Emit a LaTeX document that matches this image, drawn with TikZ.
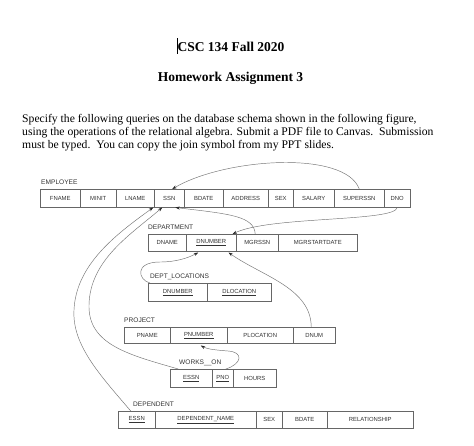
\documentclass[tikz,border=0pt]{standalone}
\usepackage{fontspec}
\setmainfont{Liberation Serif}
\newfontfamily\diagfont{Liberation Sans}
\usetikzlibrary{arrows.meta,calc}
\tikzset{
 cell/.style={draw=black!60, line width=0.5pt, anchor=north west, inner sep=0pt, text=black!80, font=\diagfont\fontsize{5.9}{6}\selectfont},
 tlabel/.style={anchor=base west, inner sep=0pt, text=black!80, font=\diagfont\fontsize{6.6}{7}\selectfont},
 link/.style={draw=black!55, line width=0.45pt, -{Stealth[length=4.5pt,width=3pt,color=black!85]}},
 titletext/.style={font=\bfseries\fontsize{13.5}{16}\selectfont, anchor=base, inner sep=0pt},
 bodytext/.style={font=\fontsize{11.65}{13}\selectfont, anchor=base west, inner sep=0pt},
}
\begin{document}
\begin{tikzpicture}[x=1pt,y=-1pt]
\useasboundingbox (0,0) rectangle (474,445);
\fill[white] (0,0) rectangle (474,445);
% titles
\node[titletext] (t1) at (231,51) {CSC 134 Fall 2020};
\node[titletext] (t2) at (230.5,81.5) {Homework Assignment 3};
\draw[line width=0.8pt] (177.5,38) -- (177.5,54);
\node[bodytext] (p1) at (22,122) {Specify the following queries on the database schema shown in the following figure,};
\node[bodytext] (p2) at (22,135) {using the operations of the relational algebra. Submit a PDF file to Canvas.~~Submission};
\node[bodytext] (p3) at (22,148) {must be typed.~~You can copy the join symbol from my PPT slides.};
% EMPLOYEE
\node[tlabel] (lemp) at (41,184.5) {EMPLOYEE};
\begin{scope}[every node/.append style={minimum height=18}]
\node[cell, minimum width=40] (fname) at (40,189) {FNAME};
\node[cell, minimum width=36] (minit) at (80,189) {MINIT};
\node[cell, minimum width=38] (lname) at (116,189) {LNAME};
\node[cell, minimum width=30] (ssn) at (154,189) {SSN};
\node[cell, minimum width=39] (bdate) at (184,189) {BDATE};
\node[cell, minimum width=45] (address) at (223,189) {ADDRESS};
\node[cell, minimum width=25] (sex) at (268,189) {SEX};
\node[cell, minimum width=41] (salary) at (293,189) {SALARY};
\node[cell, minimum width=50] (superssn) at (334,189) {SUPERSSN};
\node[cell, minimum width=26] (dno) at (384,189) {DNO};
\end{scope}
% DEPARTMENT
\node[tlabel] (ldept) at (148,229.5) {DEPARTMENT};
\begin{scope}[every node/.append style={minimum height=17}]
\node[cell, minimum width=38] (dname) at (148,234) {DNAME};
\node[cell, minimum width=50] (dnumber) at (186,234) {\underline{DNUMBER}};
\node[cell, minimum width=42] (mgrssn) at (236,234) {MGRSSN};
\node[cell, minimum width=79] (mgrstart) at (278,234) {MGRSTARTDATE};
\end{scope}
% DEPT_LOCATIONS
\node[tlabel] (ldl) at (150,278.5) {DEPT\_LOCATIONS};
\begin{scope}[every node/.append style={minimum height=18}]
\node[cell, minimum width=59] (dlnumber) at (148,283) {\underline{DNUMBER}};
\node[cell, minimum width=64] (dlocation) at (207,283) {\underline{DLOCATION}};
\end{scope}
% PROJECT
\node[tlabel] (lproj) at (124,322.5) {PROJECT};
\begin{scope}[every node/.append style={minimum height=16}]
\node[cell, minimum width=46] (pname) at (124,327) {PNAME};
\node[cell, minimum width=57] (pnumber) at (170,327) {\underline{PNUMBER}};
\node[cell, minimum width=66] (plocation) at (227,327) {PLOCATION};
\node[cell, minimum width=42] (dnum) at (293,327) {DNUM};
\end{scope}
% WORKS_ON
\node[tlabel] (lwo) at (179,364.5) {WORKS\_\_ON};
\begin{scope}[every node/.append style={minimum height=18}]
\node[cell, minimum width=42] (woessn) at (170,369) {\underline{ESSN}};
\node[cell, minimum width=21] (pno) at (212,369) {\underline{PNO}};
\node[cell, minimum width=43] (hours) at (233,369) {HOURS};
\end{scope}
% DEPENDENT
\node[tlabel] (ldep) at (133,406.5) {DEPENDENT};
\begin{scope}[every node/.append style={minimum height=17}]
\node[cell, minimum width=37] (dessn) at (118,411) {\underline{ESSN}};
\node[cell, minimum width=101] (depname) at (155,411) {\underline{DEPENDENT\_NAME}};
\node[cell, minimum width=26] (dsex) at (256,411) {SEX};
\node[cell, minimum width=45] (dbdate) at (282,411) {BDATE};
\node[cell, minimum width=86] (relationship) at (327,411) {RELATIONSHIP};
\end{scope}
% connectors
\draw[link] (superssn.north) .. controls (345,150) and (225,158) .. ($(ssn.north)+(3,0)$);
\draw[link] (dno.south) .. controls (395,222) and (270,216) .. ($(dnumber.north east)+(-4,0)$);
\draw[link] ($(mgrssn.north)+(-2,0)$) .. controls (254,216) and (230,214) .. ($(ssn.south)+(6,0)$);
\draw[link] ($(dlnumber.north west)+(2,0)$) .. controls (138,280) and (134,262) .. (160,262) .. controls (176,262) and (188,258) .. ($(dnumber.south)+(-13,1)$);
\draw[link] ($(dnum.north)+(-3,0)$) .. controls (311,288) and (262,276) .. ($(dnumber.south east)+(-8,1)$);
\draw[link] ($(woessn.north)+(-13,0)$) .. controls (130,355) and (88,345) .. (89,305) .. controls (90,260) and (130,235) .. ($(ssn.south)+(-7,0)$);
\draw[link] ($(dessn.north)+(-6,0)$) .. controls (100,375) and (72,345) .. (74,310) .. controls (76,265) and (115,235) .. ($(ssn.south)+(-16,0)$);
\draw[link] ($(pno.north)+(3,0)$) .. controls (242,364) and (244,352) .. (228,351) .. controls (215,350) and (207,349) .. ($(pnumber.south)+(2,2)$);
\end{tikzpicture}
\end{document}
